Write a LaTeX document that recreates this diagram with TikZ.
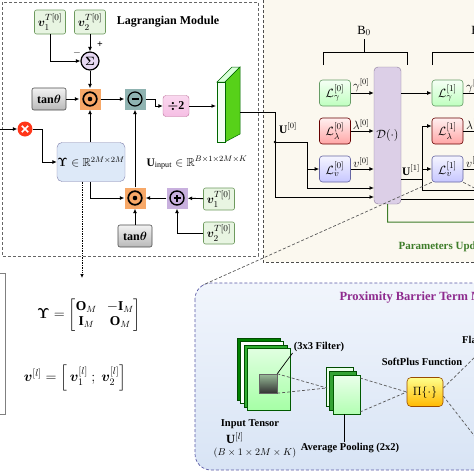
\documentclass[tikz,border=0pt]{standalone}
\usepackage{amsmath,amssymb,bm}
\usepackage{fontspec}
\setmainfont{Liberation Serif}
\usetikzlibrary{arrows.meta,calc}
\definecolor{vgreen}{HTML}{E8F5E2}
\definecolor{vgreenb}{HTML}{6E9A5E}
\definecolor{odotc}{HTML}{F7A868}
\definecolor{ominc}{HTML}{8FB3B1}
\definecolor{lav}{HTML}{E6D8F2}
\definecolor{lavd}{HTML}{C8B0DE}
\definecolor{pinkc}{HTML}{F6BEE4}
\definecolor{upsc}{HTML}{DDE9F8}
\definecolor{cream}{HTML}{FBF8EF}
\definecolor{pgreen}{HTML}{3E7D2A}
\definecolor{ppurple}{HTML}{8E2A8E}
\definecolor{pbtop}{HTML}{F1F5FC}
\definecolor{pbbot}{HTML}{D8E4F5}
\tikzset{
  x=1pt, y=-1pt,
  ln/.style={line width=0.9pt},
  arr/.style={line width=0.9pt, -{Latex[length=4.5pt,width=4pt]}},
  vbox/.style={draw=vgreenb, fill=vgreen, rounded corners=2pt, minimum width=31pt, minimum height=24pt, inner sep=1pt, line width=0.6pt, font=\fontsize{12.5}{14}\selectfont},
  tbox/.style={draw=black!70, top color=gray!10, bottom color=gray!55, rounded corners=2pt, minimum width=34pt, minimum height=22pt, inner sep=1pt, line width=0.6pt, font=\fontsize{12}{14}\selectfont},
  odotbox/.style={rectangle, fill=odotc, minimum size=21pt, inner sep=0pt,
     path picture={\draw[black, line width=1.7pt] (path picture bounding box.center) circle (6.8pt);
                   \fill[black] (path picture bounding box.center) circle (2.3pt);}},
  ominbox/.style={rectangle, fill=ominc, minimum size=21pt, inner sep=0pt,
     path picture={\draw[black, line width=1.2pt] (path picture bounding box.center) circle (7pt);
                   \draw[black, line width=1.2pt] (path picture bounding box.center) ++(-3.5pt,0) -- ++(7pt,0);}},
  oplusbox/.style={rectangle, fill=lavd, minimum size=21pt, inner sep=0pt,
     path picture={\draw[black, line width=1.4pt] (path picture bounding box.center) circle (7pt);
                   \draw[black, line width=1.2pt] (path picture bounding box.center) ++(-3.5pt,0) -- ++(7pt,0);
                   \draw[black, line width=1.2pt] (path picture bounding box.center) ++(0,-3.5pt) -- ++(0,7pt);}},
  lbase/.style={rounded corners=3pt, minimum width=31pt, minimum height=26pt, inner sep=0pt, line width=0.6pt, font=\fontsize{13}{14}\selectfont},
  lg/.style={lbase, draw=green!35!black!60, top color=green!4, bottom color=green!25!white},
  ll/.style={lbase, draw=red!40!black, top color=red!6, bottom color=red!35!white},
  lv/.style={lbase, draw=blue!40!black!60, top color=blue!4, bottom color=blue!22!white},
  lab/.style={font=\bfseries\fontsize{10.5}{12}\selectfont, inner sep=1pt},
  pdash/.style={densely dashed, line width=0.7pt, black!65},
}
\begin{document}
\begin{tikzpicture}[font=\fontsize{11.5}{13}\selectfont]
\useasboundingbox (0,0) rectangle (474,474);
\clip (0,0) rectangle (474,474);
\fill[white] (0,0) rectangle (474,474);

% right module background
\fill[cream] (263,-5) rectangle (480,262);
\draw[densely dashed, line width=0.8pt, black!70] (263,-5) -- (263,262) -- (480,262);

% Lagrangian module frame
\draw[densely dashed, line width=0.8pt, black!60] (2,2) rectangle (258,256);

% ---------- Lagrangian module ----------
\node[vbox] (v1a) at (50,22) {$\bm{v}_1^{T[0]}$};
\node[vbox] (v2a) at (90,22) {$\bm{v}_2^{T[0]}$};
\node[font=\bfseries\fontsize{12}{14}\selectfont] (lagt) at (168,22) {Lagrangian Module};
\node[circle, draw, line width=1.2pt, fill=lav, minimum size=18pt, inner sep=0pt] (sig) at (90,61) {$\bm\Sigma$};
\node[font=\bfseries] (plus) at (100,45) {+};
\node[font=\bfseries] (minus) at (77,53) {$-$};
\node[odotbox] (od1) at (90,99) {};
\node[tbox] (t1) at (49,99) {\textbf{tan}$\bm\theta$};
\node[ominbox] (om) at (135,99) {};
\node[draw=magenta!60!black!70, top color=pinkc!60, bottom color=pinkc, rounded corners=3pt, minimum width=26pt, minimum height=21pt, inner sep=0pt, font=\bfseries\large] (div) at (176,106) {$\bm\div$2};
\coordinate (slabin) at (216,106);
\coordinate (so) at (240,112);

% slab
\filldraw[fill=green!15!white, draw=green!40!black, line width=0.5pt] (217,82) -- (232,67) -- (240,67) -- (225,82) -- cycle;
\filldraw[fill=green!55!lime!80!black!90, draw=green!40!black, line width=0.5pt] (225,82) -- (240,67) -- (240,134) -- (225,142) -- cycle;
\filldraw[fill=green!5!white, draw=green!40!black, line width=0.5pt] (217,82) rectangle (225,142);

\node[circle, fill=red!75!orange!90, minimum size=15pt, inner sep=0pt,
  path picture={\draw[white, line width=1.6pt] (path picture bounding box.center) ++(-3.2pt,-3.2pt) -- ++(6.4pt,6.4pt);
                \draw[white, line width=1.6pt] (path picture bounding box.center) ++(-3.2pt,3.2pt) -- ++(6.4pt,-6.4pt);}] (cross) at (25,129) {};
\coordinate (lin) at (-5,129);
\coordinate (c42) at (42,129);
\node[draw=blue!35!black!50, fill=upsc, rounded corners=5pt, minimum width=68pt, minimum height=39pt, inner sep=0pt] (ups) at (91,162) {$\bm\Upsilon \in \mathbb{R}^{2M\times 2M}$};
\node[odotbox] (od2) at (135,198) {};
\node[tbox] (t2) at (135,236) {\textbf{tan}$\bm\theta$};
\node[oplusbox] (op) at (177,198) {};
\node[vbox, minimum height=22pt] (v1b) at (219,199) {$\bm{v}_1^{T[0]}$};
\node[vbox, minimum height=22pt] (v2b) at (219,233) {$\bm{v}_2^{T[0]}$};
\node (uin) at (197,163) {$\mathbf{U}_{\text{input}} \in \mathbb{R}^{B\times1\times2M\times K}$};

\draw[arr] (v2a) -- (sig);
\draw[arr] (v1a.south) |- (sig.west);
\draw[arr] (sig) -- (od1);
\draw[arr] (t1) -- (od1);
\draw[arr] (od1) -- (om);
\draw[arr] (om.east) -- ++(10,0) |- (div.west);
\draw[arr] (div.east) -- (slabin);
\draw[arr] (lin) -- (cross.west);
\draw[arr] (cross.east) -- (c42) |- (ups.west);
\draw[arr] (od1 |- ups.north) -- (od1.south);
\draw[arr] (od1 |- ups.south) |- (od2.west);
\draw[arr] (od2.north) -- (om.south);
\draw[arr] (t2) -- (od2);
\draw[arr] (op) -- (od2);
\draw[arr] (v1b) -- (op);
\draw[arr] (v2b.west) -| (op.south);

% dotted arrow to equations
\coordinate (dt) at (82,278);
\draw[densely dotted, line width=0.7pt, -{Latex[length=4pt,width=3.5pt]}] (ups.south -| dt) -- (dt);

% equations
\draw[gray, line width=0.8pt] (-10,273) rectangle (5,414);
\node[font=\fontsize{13.5}{15}\selectfont] (eq1) at (89,315) {$\bm\Upsilon = \begin{bmatrix}\mathbf{O}_M & -\mathbf{I}_M\\ \mathbf{I}_M & \mathbf{O}_M\end{bmatrix}$};
\node[font=\fontsize{14.5}{16}\selectfont] (eq2) at (75,378) {$\bm{v}^{[l]} = \Big[\,\bm{v}_1^{[l]}\ ;\ \bm{v}_2^{[l]}\Big]$};

% ---------- unrolled blocks ----------
\node[font=\fontsize{12.5}{14}\selectfont] (B0) at (364,31) {$\mathrm{B}_0$};
\draw[ln] (323,65) -- (323,52) -- (407,52) -- (407,65);
\draw[ln] (364,52) -- (364,39);
\node[font=\fontsize{12.5}{14}\selectfont] (B1) at (478,31) {$\mathrm{B}_1$};
\draw[ln] (432,65) -- (432,52) -- (480,52);

\node[lg] (Lg0) at (335,93) {$\mathcal{L}_\gamma^{[0]}$};
\node[ll] (Ll0) at (335,131) {$\mathcal{L}_\lambda^{[0]}$};
\node[lv] (Lv0) at (335,169) {$\mathcal{L}_v^{[0]}$};
\node[draw=lavd!70!black, fill=lav!90!gray, rounded corners=4pt, minimum width=27pt, minimum height=137pt, inner sep=0pt, font=\fontsize{12.5}{14}\selectfont] (D) at (387.5,135.5) {$\mathcal{D}(\cdot)$};
\node[lg] (Lg1) at (447.5,93) {$\mathcal{L}_\gamma^{[1]}$};
\node[ll] (Ll1) at (447.5,131) {$\mathcal{L}_\lambda^{[1]}$};
\node[lv] (Lv1) at (447.5,169) {$\mathcal{L}_v^{[1]}$};

\draw[arr] (Lg0) -- node[above, inner sep=1pt, pos=0.45] {$\gamma^{[0]}$} (D.west |- Lg0);
\draw[arr] (Ll0) -- node[above, inner sep=1pt, pos=0.45] {$\lambda^{[0]}$} (D.west |- Ll0);
\draw[arr] (Lv0) -- node[above, inner sep=1pt, pos=0.45] {$v^{[0]}$} (D.west |- Lv0);

\coordinate (j0) at (275,142);
\coordinate (j1) at (307,142);
\coordinate (j1b) at (307,188);
\coordinate (d188) at (374,188);
\coordinate (d197) at (374,197);
\node (U0) at (288,128) {$\mathbf{U}^{[0]}$};
\draw[ln] (so) -| (j0);
\draw[arr] (j0) |- (d197);
\draw[ln] (j0) -- (j1) -- (j1b);
\draw[arr] (j1b) -- (d188);
\draw[arr] (j1 |- Lv0) -- (Lv0.west);
\fill (j0) circle (1.4pt);

% right of D
\coordinate (j2) at (422,179);
\coordinate (j2t) at (422,126);
\coordinate (j2b) at (422,190);
\coordinate (e190) at (480,190);
\coordinate (e199) at (480,199);
\coordinate (d199) at (401,199);
\draw[arr] (D.east |- Lg1) -- (Lg1);
\draw[ln] (D.east |- j2) -- (j2);
\node (U1) at (411,170) {$\mathbf{U}^{[1]}$};
\draw[ln] (j2t) -- (j2b) -- (e190);
\draw[arr] (j2t) -- (Ll1.west |- j2t);
\draw[arr] (j2 |- Lv1) -- (Lv1.west);
\draw[ln] (d199) -- (e199);
\draw[ln] (Lg1.east) -- ++(20,0);
\draw[ln] (Ll1.east) -- ++(20,0);
\draw[ln] (Lv1.east) -- ++(20,0);
\node[anchor=west, inner sep=0pt] (g1) at (466,86) {$\gamma^{[1]}$};
\node[anchor=west, inner sep=0pt] (l1) at (466,124) {$\lambda^{[1]}$};
\node[anchor=west, inner sep=0pt] (vv1) at (466,162) {$v^{[1]}$};

% parameter update
\draw[pgreen, line width=1pt] (D.south) -- ++(0,18) -- (480,222);
\node[anchor=west, text=pgreen, font=\bfseries\fontsize{11}{12}\selectfont] (pu) at (395,247) {Parameters Update};

% ---------- proximity barrier ----------
\draw[densely dashed, line width=0.7pt, blue!30!gray, rounded corners=16pt, top color=pbtop, bottom color=pbbot] (195,283) rectangle (500,470);
\draw[pdash] (Lv1.south west) -- (203,285);
\draw[pdash] (Lv1.south east) -- (490,196);
\node[anchor=west, text=ppurple, font=\bfseries\fontsize{12.5}{14}\selectfont] (pt) at (336,298) {Proximity Barrier Term Module};

% input tensor stack
\filldraw[fill=green!50!black, draw=green!30!black, line width=0.4pt] (237,338) rectangle (280,400);
\filldraw[fill=white, draw=green!30!black, line width=0.4pt] (240.5,341.5) rectangle (283.5,403.5);
\filldraw[fill=green!60!black!80, draw=green!30!black, line width=0.4pt] (244,345) rectangle (287,407);
\filldraw[top color=green!12, bottom color=green!35, draw=green!35!black, line width=0.4pt] (247,348) rectangle (290,410);
\node[draw=black!60, line width=0.4pt, top color=green!35!black!40, bottom color=black!80, minimum width=18pt, minimum height=19pt, inner sep=0pt] (filt) at (268,383.5) {};
\node[lab] (fl) at (319,347) {(3x3 Filter)};
\draw[line width=0.7pt] (filt.north east) -- (fl.south west);

% pooling stack
\filldraw[fill=green!8, draw=green!30!black, line width=0.4pt] (326,367) rectangle (353,406);
\filldraw[fill=green!55!black!80, draw=green!30!black, line width=0.4pt] (329.5,371) rectangle (356.5,410);
\filldraw[top color=green!8, bottom color=green!30, draw=green!35!black, line width=0.4pt] (333,375) rectangle (360,414);
\coordinate (pin) at (327,388);
\coordinate (pl1) at (360,378);
\coordinate (pl2) at (360,412);
\coordinate (pb) at (344,414);
\draw[pdash] (filt.north east) -- (pin);
\draw[pdash] (filt.south east) -- (pin);

\node[draw=orange!60!black, top color=yellow!45, bottom color=orange!55!yellow, rounded corners=4pt, minimum width=36pt, minimum height=29pt, inner sep=0pt, line width=0.6pt, font=\fontsize{12.5}{14}\selectfont] (pi) at (425,392) {$\Pi\{\cdot\}$};
\draw[pdash] (pl1) -- (pi.west);
\draw[pdash] (pl2) -- (pi.west);
\node[lab] (sp) at (422,362) {SoftPlus Function};
\node[lab, anchor=west] (fla) at (461,340) {Flatten};
\coordinate (pr1) at (476,356);
\coordinate (pr2) at (476,438);
\draw[pdash] (pi.east) ++(0,-4) -- (pr1);
\draw[pdash] (pi.east) ++(0,4) -- (pr2);

\node[lab] (ap) at (350,448) {Average Pooling (2x2)};
\draw[line width=0.7pt] (pb) -- (ap.north -| pb);
\node[lab] (it) at (250,424) {Input Tensor};
\node[font=\fontsize{12.5}{14}\selectfont] (ul) at (235,438) {$\mathbf{U}^{[l]}$};
\node[font=\fontsize{10}{12}\selectfont] (dims) at (255,453) {$(B\times1\times2M\times K)$};
\end{tikzpicture}
\end{document}
